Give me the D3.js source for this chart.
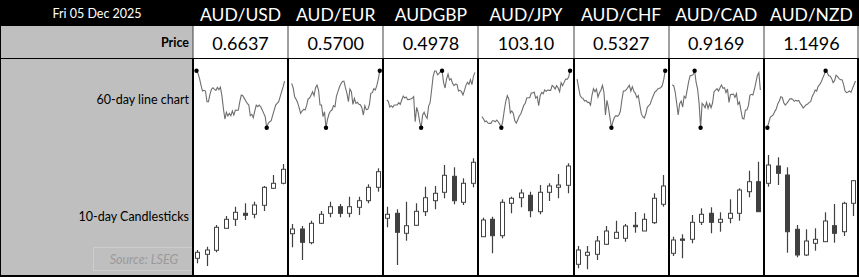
<!DOCTYPE html>
<html>
<head>
<meta charset="utf-8">
<script src="https://cdn.jsdelivr.net/npm/d3@7"></script>
<style>
  html, body { margin: 0; padding: 0; background: #ffffff; }
  svg { display: block; }
</style>
</head>
<body>
<script>
// ---------- DATA ----------
const dateLabel = "Fri 05 Dec 2025";
const pairs = ["AUD/USD", "AUD/EUR", "AUDGBP", "AUD/JPY", "AUD/CHF", "AUD/CAD", "AUD/NZD"];
const prices = ["0.6637", "0.5700", "0.4978", "103.10", "0.5327", "0.9169", "1.1496"];
const rowLabels = ["Price", "60-day line chart", "10-day Candlesticks"];
const sourceLabel = "Source: LSEG";

// 60-day lines (relative levels)
const lineUSD = [171,163,148,128,110,112,110,78,78,100,115,120,115,112,121,114,122,96,58,26,46,35,43,36,50,38,53,52,53,78,98,96,88,80,73,68,36,40,30,50,68,63,68,63,53,43,33,0,13,18,21,38,53,68,73,78,93,108,123,140];
const lineEUR = [133,120,93,85,75,60,43,50,55,53,66,86,89,97,108,96,120,128,113,68,68,33,48,0,25,41,50,53,66,63,95,108,122,132,139,140,120,103,78,116,108,70,88,73,76,70,69,60,38,66,54,55,68,103,105,117,113,126,146,171];
const lineGBP = [83,79,62,66,61,68,68,68,75,70,83,95,89,92,84,85,86,88,93,18,61,46,18,0,38,46,35,28,65,75,113,153,170,170,159,163,169,171,136,119,146,161,143,147,133,126,131,130,110,112,108,98,112,127,136,130,144,129,154,166];
const lineJPY = [33,27,18,20,14,13,13,21,21,18,23,17,10,0,21,53,80,96,86,44,50,43,21,14,24,35,41,54,67,73,89,90,90,104,104,107,89,94,66,96,106,102,113,109,113,112,112,127,123,116,126,119,108,135,126,136,146,145,151,171];
const lineCHF = [146,121,97,90,88,80,82,76,76,68,98,117,108,116,92,105,113,127,106,38,82,60,30,0,18,31,36,34,38,50,83,110,110,114,121,127,110,123,109,103,90,96,68,42,33,29,41,61,66,71,85,96,107,110,116,118,120,126,144,171];
const lineCAD = [128,126,107,73,38,72,80,62,94,89,113,138,156,157,159,171,136,116,73,0,73,68,60,76,58,72,60,74,108,113,117,110,120,128,118,120,105,116,76,99,100,101,91,102,70,77,52,28,26,53,53,66,97,100,98,115,135,157,165,113];
const lineNZD = [0,16,32,35,39,49,57,72,80,93,91,75,68,73,79,86,87,85,79,82,80,82,73,67,59,64,69,71,76,78,94,102,113,110,124,129,137,148,159,171,166,156,155,148,135,141,157,153,147,144,144,130,110,105,107,110,106,118,129,140];
const lines = [lineUSD, lineEUR, lineGBP, lineJPY, lineCHF, lineCAD, lineNZD];

// 10-day candles: [open, high, low, close] (relative levels)
const candlesUSD = [[17.7,26,12.7,23.7],[21.7,29.3,10,26],[25.7,51,23.7,48.7],[47.7,60,47.7,56.7],[56.7,69.3,50,63.7],[62.7,72.7,56,60.7],[61.7,74.3,57.7,71],[70.7,90,65,88.7],[87.7,101,87,92.7],[92.7,112,91.7,106.7]];
const candlesEUR = [[42.3,52,28.7,47],[47,50,16,33.7],[33.3,55.3,31.7,52.7],[52.7,65,52,61.7],[62.7,74.3,58.7,69.3],[69.3,72,58.7,62.7],[62.7,79.3,58.7,69.3],[68.7,79.3,61,75.3],[75.3,91.7,72.7,88.7],[88.7,107.7,84.3,104.3]];
const candlesGBP = [[57.7,69.3,48.7,61.7],[62.7,66.7,11,43.7],[42.7,74.3,35.3,50.3],[50.7,72.7,50,64.7],[64.3,89.3,60,78.3],[75.3,90,66.7,82.7],[83.7,111,77.7,100.7],[99.7,108.7,71.7,75.3],[73.7,97.7,71,92.7],[92.7,117.7,88.7,113.7]];
const candlesJPY = [[39.3,58.3,39.3,56],[56.7,59.3,22.7,40.3],[40.3,76.7,37.7,73.7],[72.7,79.3,62.7,77.7],[78.3,86.7,68.7,83],[80.7,84.3,58.7,65.3],[64.3,91,61.7,83.7],[83.7,92.7,75,90],[88.7,102,77.7,91],[90.7,112.7,82.7,110]];
const candlesCHF = [[11.7,30,7.7,26],[20.7,30,6.7,23.7],[21.7,40,16,35],[31.7,50,31,45],[37.7,55.3,37.7,43.7],[37.7,52,34.3,50],[50.7,64,43.3,49.3],[45,62.7,45,56.7],[53.3,82.7,52,77.7],[71.7,101,69.3,90]];
const candlesCAD = [[22.7,39.3,20,36],[37,41.7,17.7,35.7],[36.7,61,32.7,53.7],[53.7,67.7,51,61.7],[62.7,68.7,42.7,53.7],[53.7,63.7,44.3,56.7],[57.7,76.7,52.7,62.7],[62.7,87.7,55.3,86],[84.3,105.3,78.7,94.3],[94.3,114.3,64.3,64.3]];
const candlesNZD = [[92.7,121,89.3,111],[110,118.7,91,102.7],[101,108.7,23.3,44.3],[46.7,51,18.7,21],[21,46.7,20,35],[32.7,47.7,25.3,36.7],[34.3,63.7,34.3,55],[50.3,72,33.3,42.7],[44.3,74.3,40,72.7],[72.7,96,60,95.3]];
const candles = [candlesUSD, candlesEUR, candlesGBP, candlesJPY, candlesCHF, candlesCAD, candlesNZD];
const candleLevelRange = [0, 126];

// ---------- LAYOUT ----------
const W = 859, H = 277;
const labelW = 193;
const headerH = 26, priceBottom = 58, bottomY = 276;
const font = "Lato, 'Open Sans', sans-serif";

const svg = d3.select("body").append("svg").attr("width", W).attr("height", H);

const colX = d3.scaleBand().domain(pairs).range([labelW, W]).padding(0);
const bw = colX.bandwidth();

// backgrounds
svg.append("rect").attr("x", 0).attr("y", 0).attr("width", W).attr("height", headerH).attr("fill", "#000");
svg.append("rect").attr("x", 0).attr("y", headerH).attr("width", labelW).attr("height", H - headerH).attr("fill", "#bfbfbf");
svg.append("rect").attr("x", labelW).attr("y", headerH).attr("width", W - labelW).attr("height", bottomY - headerH).attr("fill", "#fff");

// header texts
svg.append("text").attr("x", 97).attr("y", 18).attr("text-anchor", "middle")
  .attr("fill", "#fff").attr("font-family", font).attr("font-size", 12.5).text(dateLabel);
svg.selectAll("text.pair").data(pairs).join("text").attr("class", "pair")
  .attr("x", d => colX(d) + bw / 2).attr("y", 21).attr("text-anchor", "middle")
  .attr("fill", "#fff").attr("font-family", font).attr("font-size", 17.5).text(d => d);

// price row
svg.append("text").attr("x", 189).attr("y", 47).attr("text-anchor", "end")
  .attr("fill", "#000").attr("font-family", font).attr("font-weight", "bold").attr("font-size", 12.5).text(rowLabels[0]);
svg.selectAll("text.price").data(prices).join("text").attr("class", "price")
  .attr("x", (d, i) => colX(pairs[i]) + bw / 2).attr("y", 50).attr("text-anchor", "middle")
  .attr("fill", "#000").attr("font-family", font).attr("font-size", 18).text(d => d);

// row labels
svg.append("text").attr("x", 189).attr("y", 104).attr("text-anchor", "end")
  .attr("fill", "#000").attr("font-family", font).attr("font-size", 12.5).text(rowLabels[1]);
svg.append("text").attr("x", 189).attr("y", 221).attr("text-anchor", "end")
  .attr("fill", "#000").attr("font-family", font).attr("font-size", 12.5).text(rowLabels[2]);

// source box
svg.append("rect").attr("x", 93.5).attr("y", 247.5).attr("width", 99).attr("height", 23)
  .attr("fill", "#bfbfbf").attr("stroke", "#cdcdcd").attr("stroke-width", 1);
svg.append("text").attr("x", 178).attr("y", 264).attr("text-anchor", "end")
  .attr("fill", "#9a9a9a").attr("font-family", font).attr("font-style", "italic").attr("font-size", 12.5).text(sourceLabel);

// sparklines
const sparkY0 = 127.7, sparkY1 = 70.7;
lines.forEach((vals, c) => {
  const x0 = colX(pairs[c]);
  const x = d3.scaleLinear().domain([0, vals.length - 1]).range([x0 + 3.5, x0 + bw - 3.5]);
  const y = d3.scaleLinear().domain(d3.extent(vals)).range([sparkY0, sparkY1]);
  const g = svg.append("g");
  g.append("path").datum(vals)
    .attr("d", d3.line().x((d, i) => x(i)).y(d => y(d)))
    .attr("fill", "none").attr("stroke", "#6e6e6e").attr("stroke-width", 1.1);
  const iMax = d3.maxIndex(vals), iMin = d3.minIndex(vals);
  g.selectAll("circle").data([iMax, iMin]).join("circle")
    .attr("cx", i => x(i)).attr("cy", i => y(vals[i])).attr("r", 2.2).attr("fill", "#000");
});

// candlesticks
const cy = d3.scaleLinear().domain(candleLevelRange).range([bottomY, 150]);
const bodyW = 4;
candles.forEach((data, c) => {
  const x0 = colX(pairs[c]);
  const cx = d3.scalePoint().domain(d3.range(data.length)).range([x0 + 4.2, x0 + bw - 5.6]);
  const g = svg.append("g");
  g.selectAll("line").data(data).join("line")
    .attr("x1", (d, i) => Math.round(cx(i)) + 0.5).attr("x2", (d, i) => Math.round(cx(i)) + 0.5)
    .attr("y1", d => cy(d[1])).attr("y2", d => cy(d[2]))
    .attr("stroke", "#404040").attr("stroke-width", 1.2);
  g.selectAll("rect").data(data).join("rect")
    .attr("x", (d, i) => Math.round(cx(i)) + 0.5 - bodyW / 2)
    .attr("y", d => cy(Math.max(d[0], d[3])))
    .attr("width", bodyW)
    .attr("height", d => Math.max(1, Math.abs(cy(d[0]) - cy(d[3]))))
    .attr("fill", d => d[3] >= d[0] ? "#fff" : "#404040")
    .attr("stroke", "#404040").attr("stroke-width", 1);
});

// grid lines
svg.append("line").attr("x1", 0).attr("x2", W).attr("y1", priceBottom + 0.5).attr("y2", priceBottom + 0.5)
  .attr("stroke", "#000").attr("stroke-width", 1);
const bounds = [labelW].concat(pairs.map(p => colX(p) + bw));
bounds.forEach(b => {
  const bx = Math.min(Math.round(b), W - 1);
  svg.append("line").attr("x1", bx).attr("x2", bx).attr("y1", headerH).attr("y2", priceBottom)
    .attr("stroke", "#404040").attr("stroke-width", 1);
  svg.append("line").attr("x1", bx).attr("x2", bx).attr("y1", priceBottom).attr("y2", bottomY + 1)
    .attr("stroke", "#000").attr("stroke-width", 2);
});
svg.append("line").attr("x1", 0).attr("x2", W).attr("y1", bottomY).attr("y2", bottomY)
  .attr("stroke", "#000").attr("stroke-width", 2);
svg.append("line").attr("x1", 0.5).attr("x2", 0.5).attr("y1", headerH).attr("y2", bottomY)
  .attr("stroke", "#000").attr("stroke-width", 1);
</script>
</body>
</html>
